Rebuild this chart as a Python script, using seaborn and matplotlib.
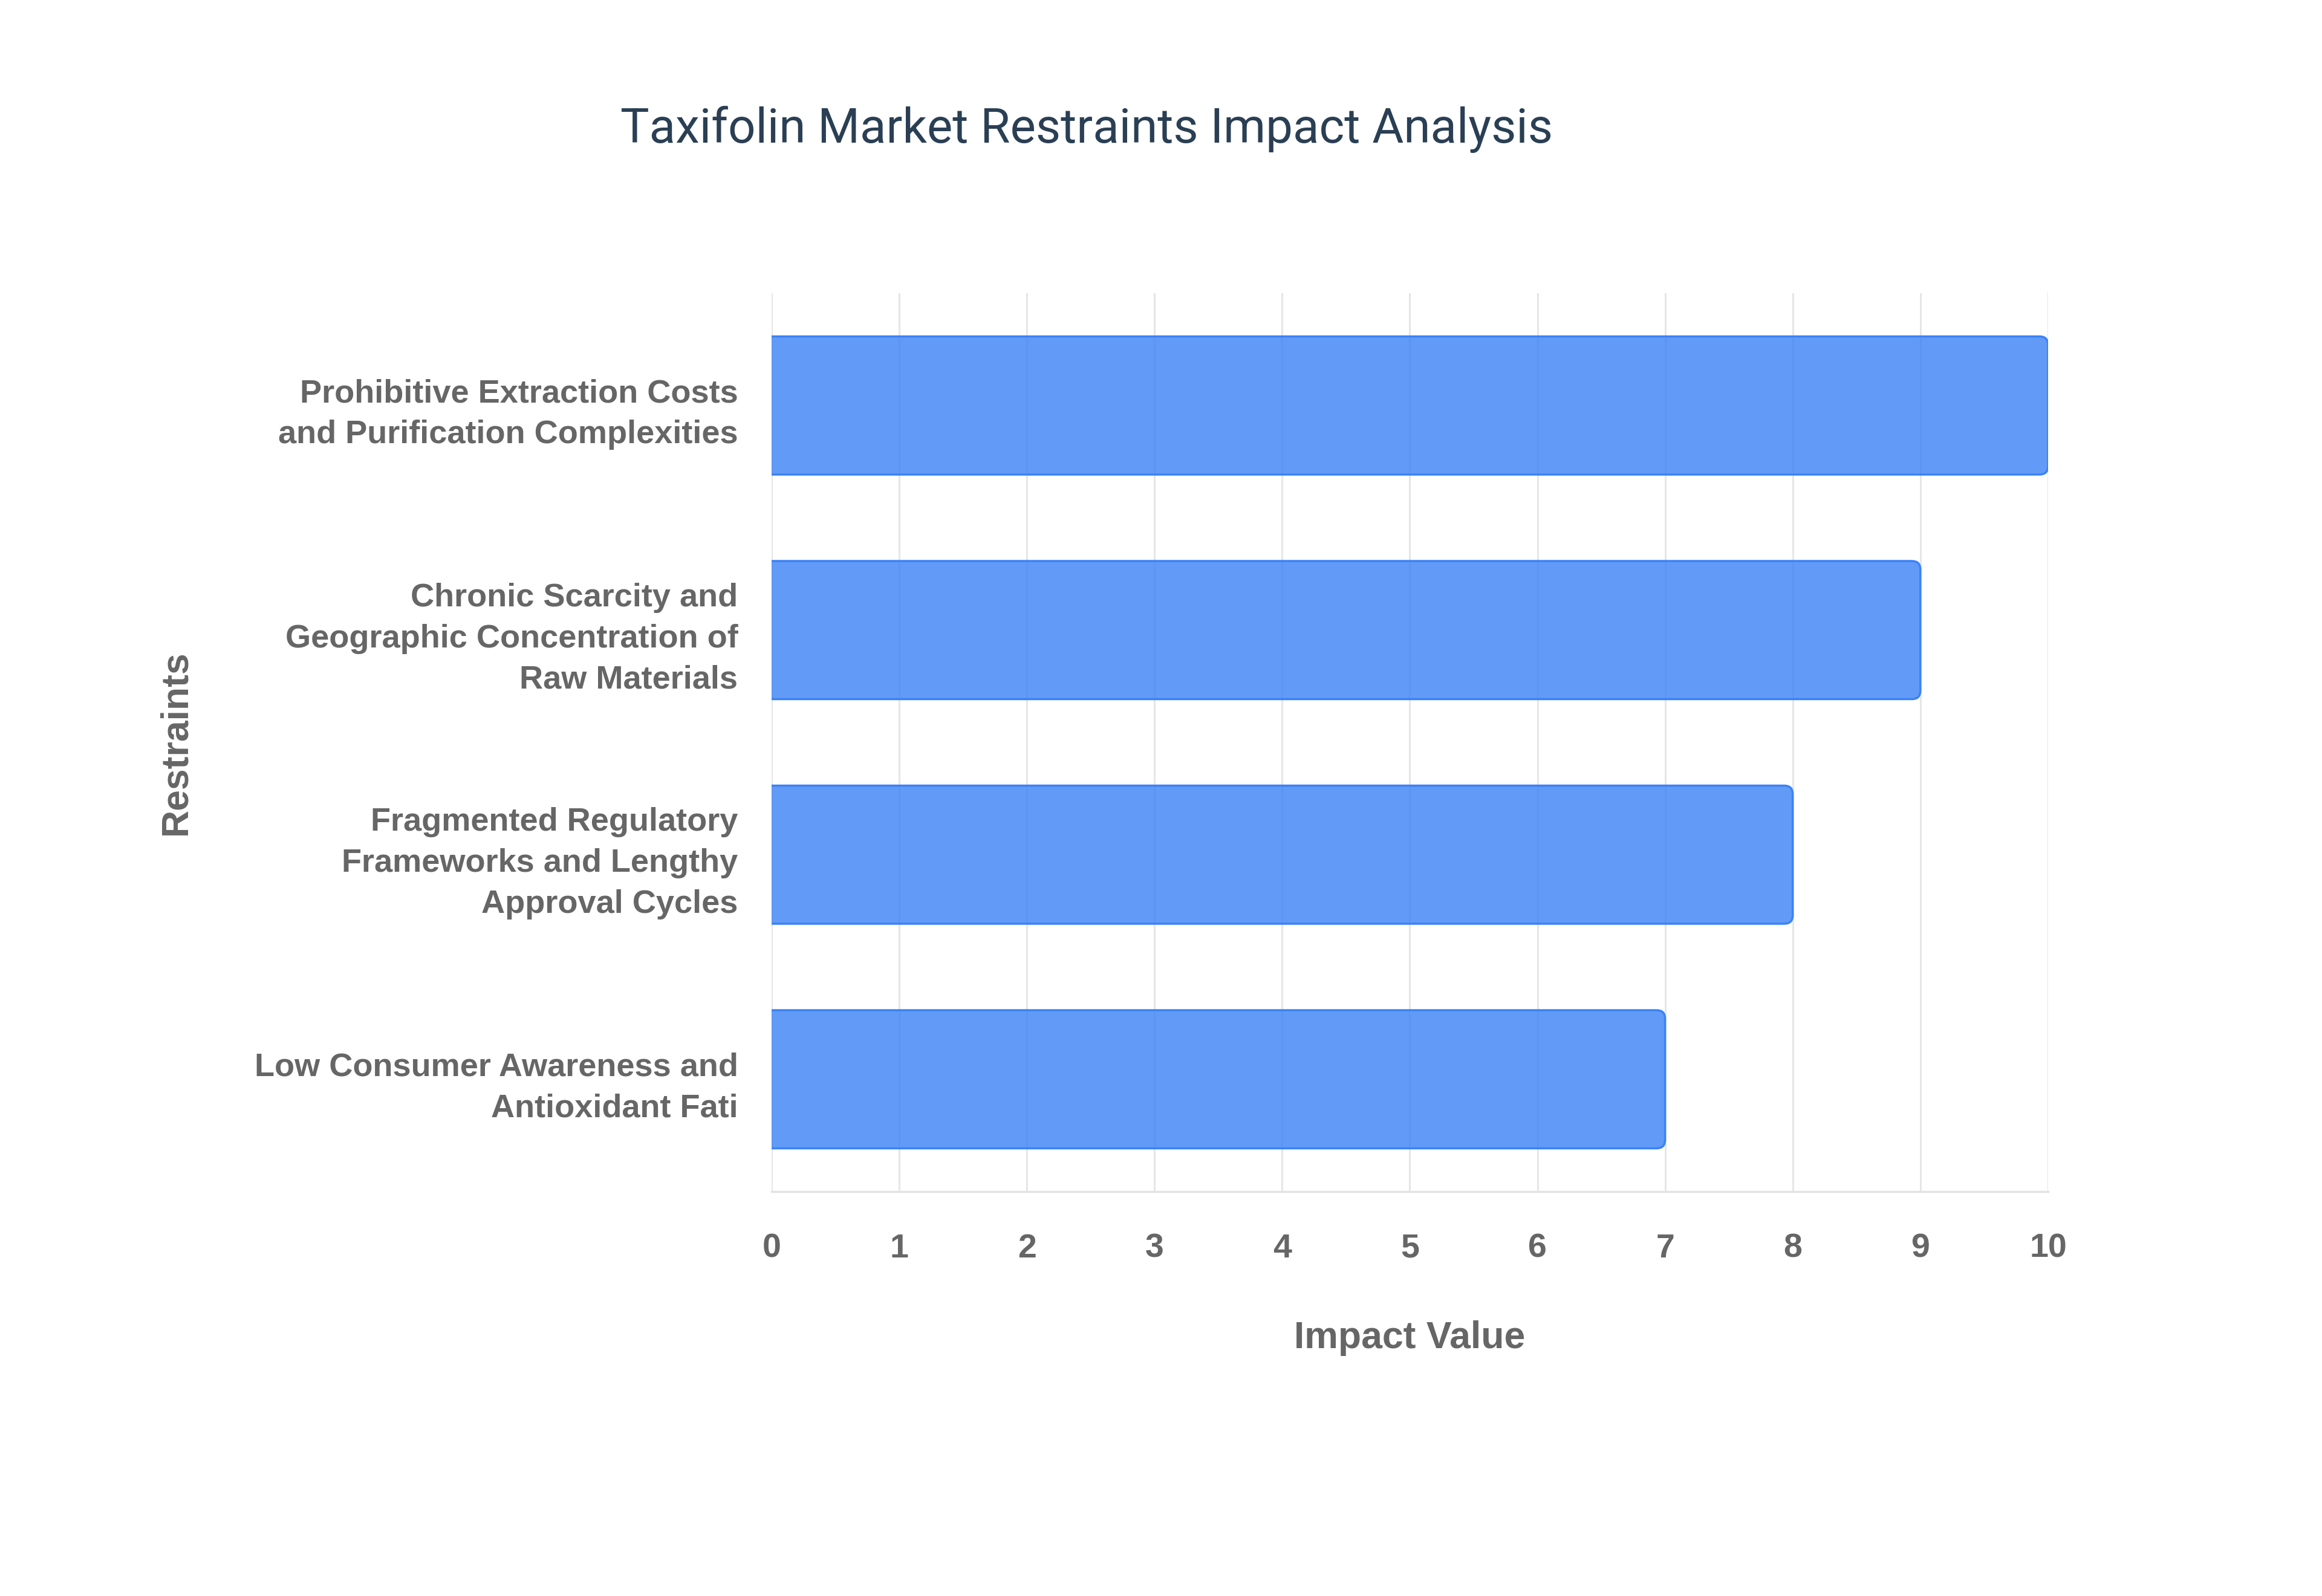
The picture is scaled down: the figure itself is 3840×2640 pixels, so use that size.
import matplotlib
matplotlib.use("Agg")
import matplotlib.pyplot as plt
from matplotlib.patches import FancyBboxPatch
import seaborn as sns
import pandas as pd

restraints = [
    "Prohibitive Extraction Costs\nand Purification Complexities",
    "Chronic Scarcity and\nGeographic Concentration of\nRaw Materials",
    "Fragmented Regulatory\nFrameworks and Lengthy\nApproval Cycles",
    "Low Consumer Awareness and\nAntioxidant Fati",
]
impact = [10, 9, 8, 7]
x_ticks = [0, 1, 2, 3, 4, 5, 6, 7, 8, 9, 10]

title = "Taxifolin Market Restraints Impact Analysis"
x_title = "Impact Value"
y_title = "Restraints"

df = pd.DataFrame({"Restraints": restraints, "Impact": impact})

sns.set_theme(style="white")
plt.rcParams["font.family"] = ["Liberation Sans", "DejaVu Sans"]

fig = plt.figure(figsize=(38.4, 26.4), dpi=100)
ax = fig.add_axes([0.3323, 0.2534, 0.5497, 0.5629])

sns.barplot(data=df, y="Restraints", x="Impact", orient="h", ax=ax,
            color="#3b82f6", width=0.615, saturation=1, alpha=0.8,
            edgecolor="#3b82f6", linewidth=2.5, zorder=3)

ax.set_xlim(0, 10)
ax.set_ylim(3.5, -0.5)

# rounded right ends (geometry taken from the seaborn bars)
px_per_x = ax.get_position().width * fig.get_figwidth() * fig.dpi / 10.0
px_per_y = ax.get_position().height * fig.get_figheight() * fig.dpi / 4.0
r_px = 14
r_x = r_px / px_per_x
aspect = px_per_x / px_per_y
for p in list(ax.patches):
    x0, y0, w, h = p.get_x(), p.get_y(), p.get_width(), p.get_height()
    rb = FancyBboxPatch((x0 - r_x, y0), w + r_x, h,
                        boxstyle=f"round,pad=0,rounding_size={r_x}",
                        mutation_aspect=aspect,
                        facecolor=(0.231, 0.51, 0.965, 0.8),
                        edgecolor=(0.231, 0.51, 0.965, 1.0),
                        linewidth=2.5, zorder=3)
    ax.add_patch(rb)
    p.set_visible(False)

ax.set_xticks(x_ticks)
ax.set_xticklabels([str(t) for t in x_ticks], fontweight="bold")
ax.set_yticks(range(len(restraints)))
ax.set_yticklabels(restraints, fontweight="bold", linespacing=1.45)
ax.grid(axis="x", color="#e6e6e6", linewidth=2.2, zorder=0)
ax.grid(axis="y", visible=False)
for s in ["top", "right", "left"]:
    ax.spines[s].set_visible(False)
ax.spines["bottom"].set_color("#e3e3e3")
ax.spines["bottom"].set_linewidth(2.5)

ax.tick_params(axis="x", length=19.5, width=1.6, color="#e6e6e6", pad=30,
               labelsize=40, labelcolor="#666666")
ax.tick_params(axis="y", length=0, pad=40, labelsize=39, labelcolor="#666666")

ax.set_xlabel(x_title, fontsize=45, fontweight="bold", color="#666666")
ax.set_ylabel(y_title, fontsize=45, fontweight="bold", color="#666666")
ax.xaxis.set_label_coords(0.5, -0.1635)
ax.xaxis.label.set_va("center")
ax.yaxis.set_label_coords(-0.4666, 0.5)
ax.yaxis.label.set_va("center")

fig.text(0.468, 0.919, title, ha="center", va="center", fontsize=57.5,
         color="#2a3f54", family=["Roboto", "DejaVu Sans"])

fig.savefig("out.png", dpi=100, facecolor="white")
